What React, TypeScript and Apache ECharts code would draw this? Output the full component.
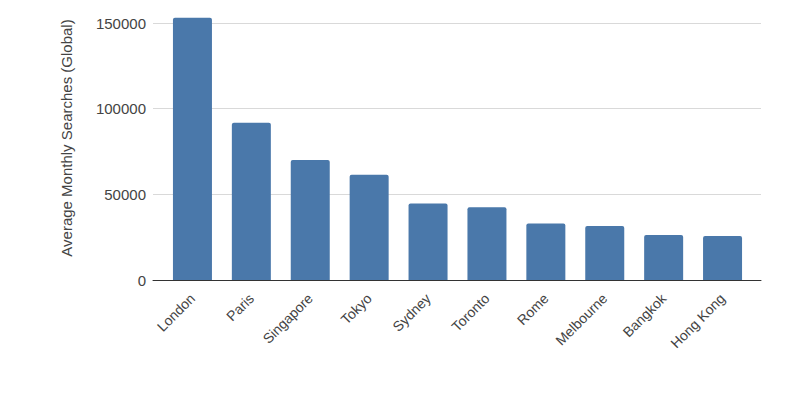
import { useEffect, useRef } from 'react'
import * as echarts from 'echarts'

// Chart data
const cities = ['London', 'Paris', 'Singapore', 'Tokyo', 'Sydney', 'Toronto', 'Rome', 'Melbourne', 'Bangkok', 'Hong Kong']
const searches = [153000, 91800, 70000, 61400, 44700, 42400, 33000, 31500, 26200, 25700]
const yTicks = [0, 50000, 100000, 150000]

const FONT = 'Arial, "Liberation Sans", sans-serif'
const BAR_COLOR = '#4a78aa'

const App: React.FC = () => {
  const chartRef = useRef<HTMLDivElement | null>(null)

  useEffect(() => {
    document.body.style.margin = '0'
    if (!chartRef.current) return
    const chart = echarts.init(chartRef.current, null, { renderer: 'svg' })

    const yMin = yTicks[0]
    const yMax = yTicks[yTicks.length - 1]
    const yStep = yTicks[1] - yTicks[0]

    const option: echarts.EChartsOption = {
      animation: false,
      textStyle: { fontFamily: FONT },
      grid: [
        // frame grid: gridlines + baseline, a bit wider than the bars
        { left: 153, right: 40, top: 23, bottom: 120 },
        // bar grid
        { left: 163, right: 49, top: 23, bottom: 120 },
      ],
      xAxis: [
        {
          type: 'category',
          gridIndex: 0,
          data: cities,
          axisLine: { show: true, lineStyle: { color: '#333', width: 1 } },
          axisTick: { show: false },
          axisLabel: { show: false },
        },
        {
          type: 'category',
          gridIndex: 1,
          data: cities,
          axisLine: { show: false },
          axisTick: { show: false },
          axisLabel: {
            color: '#444',
            fontSize: 14,
            rotate: 45,
            margin: 16,
            interval: 0,
          },
        },
      ],
      yAxis: [
        {
          type: 'value',
          gridIndex: 0,
          min: yMin,
          max: yMax,
          interval: yStep,
          axisLine: { show: false },
          axisTick: { show: false },
          axisLabel: { color: '#444', fontSize: 15, margin: 7, formatter: (v: number) => String(v) },
          splitLine: { lineStyle: { color: '#d9d9d9', width: 1 } },
        },
        {
          type: 'value',
          gridIndex: 1,
          min: yMin,
          max: yMax,
          interval: yStep,
          show: false,
        },
      ],
      series: [
        {
          type: 'bar',
          xAxisIndex: 1,
          yAxisIndex: 1,
          data: searches,
          barWidth: 39,
          clip: false,
          itemStyle: { color: BAR_COLOR, borderRadius: [2, 2, 0, 0] },
          z: 3,
        },
      ],
      graphic: [
        {
          type: 'text',
          x: 66,
          y: 138,
          rotation: Math.PI / 2,
          style: {
            text: 'Average Monthly Searches (Global)',
            fill: '#444',
            font: `15px ${FONT}`,
            align: 'center',
            verticalAlign: 'middle',
          },
        },
      ],
    }

    chart.setOption(option)
    return () => {
      chart.dispose()
    }
  }, [])

  return <div ref={chartRef} style={{ width: 801, height: 400 }} />
}

export default App
